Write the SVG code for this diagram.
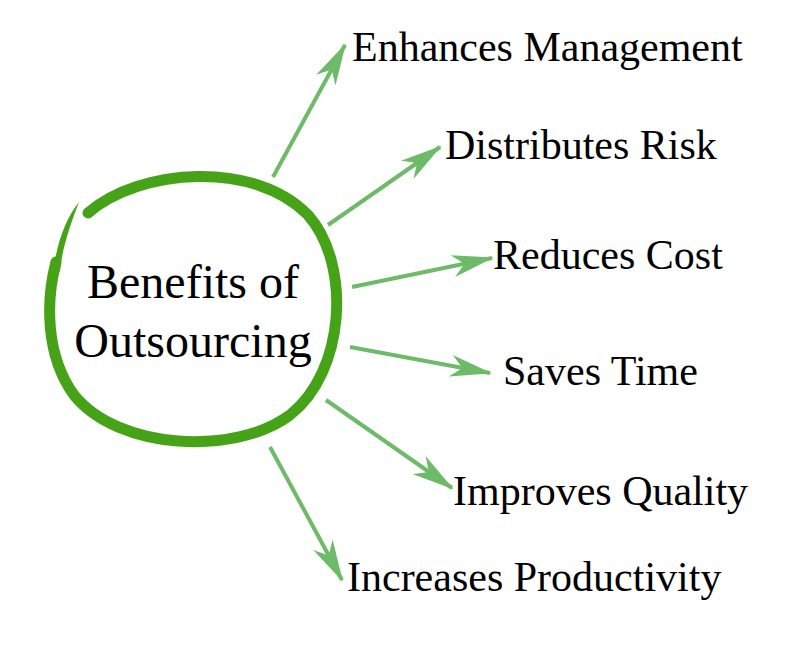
<svg xmlns="http://www.w3.org/2000/svg" width="800" height="649" viewBox="0 0 800 649">
<style>
.lbl{font-family:"Liberation Serif","Times New Roman",serif;font-size:42px;fill:#000}
.ctr{font-family:"Liberation Serif","Times New Roman",serif;font-size:48px;fill:#000;text-anchor:middle}
.conn line{stroke:#6dbb68;stroke-width:4;stroke-linecap:butt;marker-end:url(#ah)}
</style>
<defs>
<marker id="ah" markerUnits="userSpaceOnUse" viewBox="0 0 42 24" refX="40" refY="12" markerWidth="42" markerHeight="24" orient="auto">
<path d="M0,1 L42,12 L0,23 L12,12 Z" fill="#6dbb68"/>
</marker>
</defs>
<rect width="800" height="649" fill="#fff"/>
<g id="center">
<path d="M88,213 C140,168 255,160 308,215 C352,265 345,372 290,415 C235,456 118,450 74,395 C45,355 46,300 56,262" fill="none" stroke="#46a318" stroke-width="11" stroke-linecap="round"/>
<path d="M51,300 C52,255 63,222 79,202 C70,225 62,250 60,270 Z" fill="#46a318"/>
<text class="ctr" x="193" y="298">Benefits of</text>
<text class="ctr" x="193" y="357">Outsourcing</text>
</g>
<g id="connectors" class="conn">
<line x1="273" y1="177" x2="345" y2="45"/>
<line x1="328" y1="225" x2="440" y2="147"/>
<line x1="352" y1="287" x2="492" y2="258"/>
<line x1="350" y1="347" x2="490" y2="373"/>
<line x1="326" y1="400" x2="452" y2="488"/>
<line x1="270" y1="447" x2="342" y2="580"/>
</g>
<g id="n1"><text class="lbl" x="352" y="61">Enhances Management</text></g>
<g id="n2"><text class="lbl" x="445" y="159">Distributes Risk</text></g>
<g id="n3"><text class="lbl" x="493" y="269">Reduces Cost</text></g>
<g id="n4"><text class="lbl" x="503" y="385">Saves Time</text></g>
<g id="n5"><text class="lbl" x="453" y="505">Improves Quality</text></g>
<g id="n6"><text class="lbl" x="347" y="591">Increases Productivity</text></g>
</svg>
